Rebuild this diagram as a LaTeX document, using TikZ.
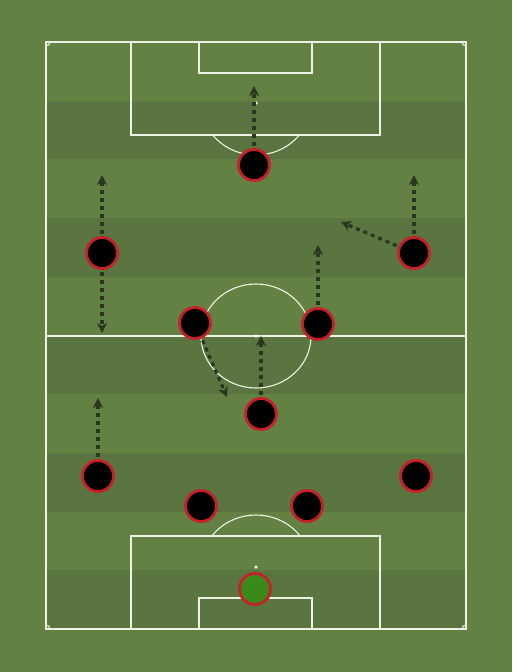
\documentclass[tikz,border=0pt]{standalone}
\usetikzlibrary{arrows.meta}
\definecolor{grassL}{RGB}{99,129,67}
\definecolor{grassD}{RGB}{90,117,63}
\definecolor{arrowc}{RGB}{42,54,32}
\definecolor{kitred}{RGB}{200,32,42}
\definecolor{gkgreen}{RGB}{58,138,26}
\definecolor{linew}{RGB}{238,242,228}
\tikzset{
  pitch/.style={draw=linew, line width=1.1pt},
  player/.style={circle, minimum size=31pt, inner sep=0pt, fill=black, draw=kitred, line width=2.8pt},
  keeper/.style={player, fill=gkgreen},
  run/.style={draw=arrowc, line width=3.2pt, dash pattern=on 4pt off 4pt, shorten <=2pt,
    -{Stealth[length=10pt,width=10pt,inset=3pt]}},
  spot/.style={circle, fill=white, inner sep=0pt, minimum size=3.5pt}
}
\begin{document}
\begin{tikzpicture}[x=1pt,y=-1pt]
\useasboundingbox (0,0) rectangle (512,672);
\fill[grassL] (0,0) rectangle (512,672);
% stripes
\foreach \i in {1,3,5,7,9} {
  \fill[grassD] (46,{42+\i*58.7}) rectangle (466,{42+(\i+1)*58.7});
}
% outer
\draw[pitch] (46,42) rectangle (466,629);
\draw[pitch] (46,336) -- (466,336);
\draw[pitch] (256,336) ellipse [x radius=55, y radius=52];
% top boxes
\draw[pitch] (131,42) -- (131,135) -- (380,135) -- (380,42);
\draw[pitch] (199,42) -- (199,73) -- (312,73) -- (312,42);
\begin{scope}
\clip (131,135) rectangle (380,200);
\draw[pitch] (256,103) ellipse [x radius=55, y radius=52];
\end{scope}
% bottom boxes
\draw[pitch] (131,629) -- (131,536) -- (380,536) -- (380,629);
\draw[pitch] (199,629) -- (199,598) -- (312,598) -- (312,629);
\begin{scope}
\clip (131,536) rectangle (380,470);
\draw[pitch] (256,567) ellipse [x radius=55, y radius=52];
\end{scope}
% corner arcs
\draw[pitch] (50,42) arc[start angle=0,end angle=90,radius=4];
\draw[pitch] (462,42) arc[start angle=180,end angle=90,radius=4];
\draw[pitch] (50,629) arc[start angle=0,end angle=-90,radius=4];
\draw[pitch] (462,629) arc[start angle=180,end angle=270,radius=4];
% spots
\node[spot] (s1) at (256,103) {};
\node[spot] (s2) at (256,336) {};
\node[spot] (s3) at (256,567) {};
% run targets
\coordinate (t1) at (254,86);
\coordinate (t2) at (102,175);
\coordinate (t3) at (102,333);
\coordinate (t4) at (414,175);
\coordinate (t5) at (341,222);
\coordinate (t6) at (318,245);
\coordinate (t7) at (227,397);
\coordinate (t8) at (261,336);
\coordinate (t9) at (98,398);
% players
\node[player] (p1) at (254,165) {};
\node[player] (p2) at (102,253) {};
\node[player] (p3) at (414,253) {};
\node[player] (p4) at (195,323) {};
\node[player] (p5) at (318,324) {};
\node[player] (p6) at (261,414) {};
\node[player] (p7) at (98,476) {};
\node[player] (p8) at (416,476) {};
\node[player] (p9) at (201,506) {};
\node[player] (p10) at (307,506) {};
\node[keeper] (gk) at (255,589) {};
% runs
\draw[run] (p1) -- (t1);
\draw[run] (p2) -- (t2);
\draw[run] (p2) -- (t3);
\draw[run] (p3) -- (t4);
\draw[run] (p3) -- (t5);
\draw[run] (p5) -- (t6);
\draw[run] (p4) -- (t7);
\draw[run] (p6) -- (t8);
\draw[run] (p7) -- (t9);
\end{tikzpicture}
\end{document}
